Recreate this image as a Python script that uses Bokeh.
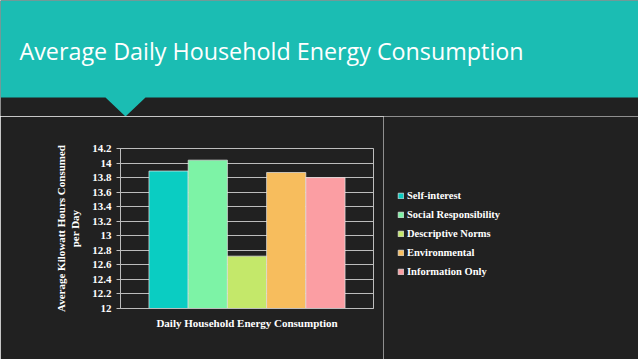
from bokeh.plotting import figure
from bokeh.models import (FactorRange, Range1d, Legend, LegendItem, FixedTicker,
                          CustomJSTickFormatter, ColumnDataSource)
from bokeh.transform import dodge
from bokeh.layouts import column, row
from bokeh.core.properties import value
from bokeh.embed import file_html
from bokeh.resources import INLINE

# ---------------- data ----------------
title_text = "Average Daily Household Energy Consumption"
category = "Daily Household Energy Consumption"
series_names = ["Self-interest", "Social Responsibility", "Descriptive Norms",
                "Environmental", "Information Only"]
series_values = [13.89, 14.04, 12.72, 13.87, 13.80]
series_colors = ["#0acdc2", "#7df3a6", "#c4e86a", "#f7bd5d", "#fb9ea3"]
y_ticks = [12, 12.2, 12.4, 12.6, 12.8, 13, 13.2, 13.4, 13.6, 13.8, 14, 14.2]
y_label = "Average Kilowatt Hours Consumed\nper Day"

BG = "#212121"
TEAL = "#1bbdb3"
SERIF = "Liberation Serif"

# ---------------- banner ----------------
W = 638
H = 359
BANNER_H = 116
CHART_W = 383
banner = figure(width=W, height=BANNER_H, x_range=Range1d(0, W), y_range=Range1d(BANNER_H, 0),
                output_backend="svg", toolbar_location=None, title=None,
                x_axis_location=None, y_axis_location=None,
                min_border_left=0, min_border_right=0, min_border_top=0, min_border_bottom=0)
banner.frame_align = False
banner.grid.visible = False
banner.outline_line_color = None
banner.background_fill_color = BG
banner.border_fill_color = BG
banner.patch([0, W, W, 145, 125, 105, 0], [0, 0, 97, 97, 116, 97, 97],
             fill_color=TEAL, line_color=None)
banner.text(x=[19], y=[50], text=[title_text], text_color="white",
            text_font=value("Open Sans"), text_font_size="23.3px",
            text_baseline="middle", text_align="left")

# ---------------- chart ----------------
p = figure(width=CHART_W, height=H - BANNER_H, x_range=FactorRange(factors=[category]),
           y_range=Range1d(12, 14.2), output_backend="svg", toolbar_location=None, title=None,
           min_border_left=120, min_border_right=CHART_W - 373, min_border_top=32,
           min_border_bottom=51)
p.background_fill_color = BG
p.border_fill_color = BG
p.outline_line_color = "#bdbdbd"

n = len(series_names)
bw = 0.155
for i, (name, val, col) in enumerate(zip(series_names, series_values, series_colors)):
    off = (i - (n - 1) / 2) * bw
    s = ColumnDataSource(data=dict(cat=[category], val=[val]))
    p.vbar(x=dodge("cat", off, range=p.x_range), top="val", bottom=12, width=bw,
           source=s, fill_color=col, line_color="#e6e6e6", line_width=1, line_alpha=0.7)

p.xgrid.visible = False
p.ygrid.grid_line_color = "#bdbdbd"
p.ygrid.grid_line_width = 1

p.yaxis.ticker = FixedTicker(ticks=y_ticks)
p.yaxis.formatter = CustomJSTickFormatter(code="return String(Math.round(tick*10)/10);")
p.yaxis.axis_line_color = "#bdbdbd"
p.yaxis.major_tick_line_color = "#bdbdbd"
p.yaxis.major_tick_out = 4
p.yaxis.major_tick_in = 0
p.yaxis.minor_tick_line_color = None
p.yaxis.major_label_text_color = "white"
p.yaxis.major_label_text_font = SERIF
p.yaxis.major_label_text_font_style = "bold"
p.yaxis.major_label_text_font_size = "11px"
p.yaxis.major_label_standoff = 5
p.yaxis.axis_label = y_label
p.yaxis.axis_label_text_color = "white"
p.yaxis.axis_label_text_font = SERIF
p.yaxis.axis_label_text_font_style = "bold"
p.yaxis.axis_label_text_font_size = "11px"
p.yaxis.axis_label_standoff = 8

p.xaxis.axis_line_color = "#bdbdbd"
p.xaxis.major_tick_line_color = None
p.xaxis.minor_tick_line_color = None
p.xaxis.major_label_text_color = "white"
p.xaxis.major_label_text_font = SERIF
p.xaxis.major_label_text_font_style = "bold"
p.xaxis.major_label_text_font_size = "11px"
p.xaxis.major_label_standoff = 2

# ---------------- legend panel ----------------
lg = figure(width=W - CHART_W, height=H - BANNER_H, x_range=Range1d(0, 1), y_range=Range1d(0, 1),
            output_backend="svg", toolbar_location=None, title=None,
            x_axis_location=None, y_axis_location=None,
            min_border_left=0, min_border_right=0, min_border_top=0, min_border_bottom=0)
lg.frame_align = False
lg.grid.visible = False
lg.outline_line_color = None
lg.background_fill_color = BG
lg.border_fill_color = BG
items = []
for name, col in zip(series_names, series_colors):
    # swatch-only renderer, kept outside the visible range
    r = lg.vbar(x=[-10], top=[-10], bottom=[-11], width=0.1, fill_color=col,
                line_color="#e6e6e6", line_width=1, line_alpha=0.7)
    items.append(LegendItem(label=name, renderers=[r]))
legend = Legend(items=items, location=(14, 81), orientation="vertical",
                background_fill_alpha=0, border_line_color=None,
                label_text_color="white", label_text_font=SERIF,
                label_text_font_style="bold", label_text_font_size="10.5px",
                glyph_width=7, glyph_height=7, label_height=13,
                spacing=6, label_standoff=3, padding=0, margin=0)
lg.add_layout(legend)

layout = column(banner, row(p, lg, spacing=0), spacing=0)
open("out.html", "w").write(file_html(layout, INLINE))
